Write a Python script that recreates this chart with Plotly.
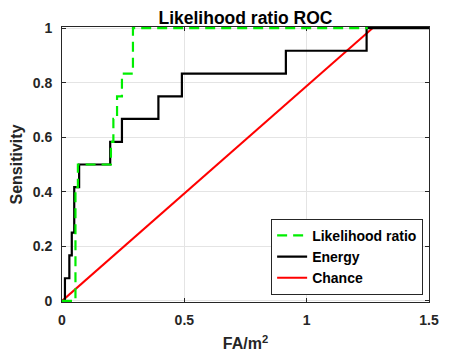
import plotly.graph_objects as go

# Likelihood ratio ROC (step curve vertices)
lr_fa = [0, 0.055, 0.055, 0.065, 0.065, 0.2, 0.2, 0.21, 0.21, 0.225, 0.225, 0.245, 0.245, 0.29, 0.29, 1.25]
lr_sens = [0, 0, 0.417, 0.417, 0.5, 0.5, 0.583, 0.583, 0.667, 0.667, 0.75, 0.75, 0.833, 0.833, 1, 1]

# Energy ROC (step curve vertices)
en_fa = [0, 0.012, 0.012, 0.03, 0.03, 0.04, 0.04, 0.05, 0.05, 0.07, 0.07, 0.197, 0.197, 0.245, 0.245,
         0.394, 0.394, 0.49, 0.49, 0.915, 0.915, 1.245, 1.245, 1.5]
en_sens = [0, 0, 0.083, 0.083, 0.167, 0.167, 0.25, 0.25, 0.417, 0.417, 0.5, 0.5, 0.583, 0.583, 0.667,
           0.667, 0.75, 0.75, 0.833, 0.833, 0.917, 0.917, 1, 1]

# Chance line
ch_fa = [0, 1.27]
ch_sens = [0, 1]

x_ticks = [0, 0.5, 1, 1.5]
x_labels = ["0", "0.5", "1", "1.5"]
y_ticks = [0, 0.2, 0.4, 0.6, 0.8, 1]
y_labels = ["0", "0.2", "0.4", "0.6", "0.8", "1"]

FONT = "Liberation Sans, Arial, Helvetica"

# page body has an 8px default margin; figure sized to fill the rest of the 474x355 window
W, H = 466, 347

fig = go.Figure()
fig.add_trace(go.Scatter(x=ch_fa, y=ch_sens, mode="lines", name="<b>Chance</b>",
                         line=dict(color="red", width=2), legendrank=3))
fig.add_trace(go.Scatter(x=en_fa, y=en_sens, mode="lines", name="<b>Energy</b>",
                         line=dict(color="black", width=2.2), legendrank=2))
fig.add_trace(go.Scatter(x=lr_fa, y=lr_sens, mode="lines", name="<b>Likelihood ratio</b>",
                         line=dict(color="#00ee00", width=2.2, dash="10px,6px"),
                         legendrank=1))

axis_common = dict(showline=True, linecolor="#262626", linewidth=1, mirror="ticks",
                   ticks="inside", ticklen=4, tickcolor="#262626", layer="below traces",
                   showgrid=True, gridcolor="#e4e4e4", gridwidth=1, zeroline=False,
                   automargin=False,
                   tickfont=dict(family=FONT, size=14, color="#262626"))

fig.update_layout(
    width=W, height=H,
    margin=dict(l=54, r=45, t=19, b=53, autoexpand=False),
    paper_bgcolor="white", plot_bgcolor="white",
    title=dict(text="<b>Likelihood ratio ROC</b>", x=0.5, xref="paper", xanchor="center",
               y=1 - 10 / H, yref="container", yanchor="middle", automargin=False,
               font=dict(family=FONT, size=17.5, color="black")),
    xaxis=dict(range=[0, 1.5], tickvals=x_ticks, ticktext=["<b>%s</b>" % t for t in x_labels],
               ticklabelstandoff=5,
               title=dict(text="<b>FA/m<sup>2</sup></b>", standoff=11,
                          font=dict(family=FONT, size=16, color="#262626")),
               **axis_common),
    yaxis=dict(range=[-0.004, 1.004], tickvals=y_ticks, ticktext=["<b>%s</b>" % t for t in y_labels],
               ticklabelstandoff=6,
               title=dict(text="<b>Sensitivity</b>", standoff=6,
                          font=dict(family=FONT, size=16, color="#262626")),
               **axis_common),
    legend=dict(x=0.984, y=0.026, xanchor="right", yanchor="bottom", bgcolor="white",
                bordercolor="#262626", borderwidth=1,
                font=dict(family=FONT, size=14, color="black"),
                tracegroupgap=0, itemwidth=30, traceorder="normal"),
    showlegend=True,
)

fig.write_html("out.html")
